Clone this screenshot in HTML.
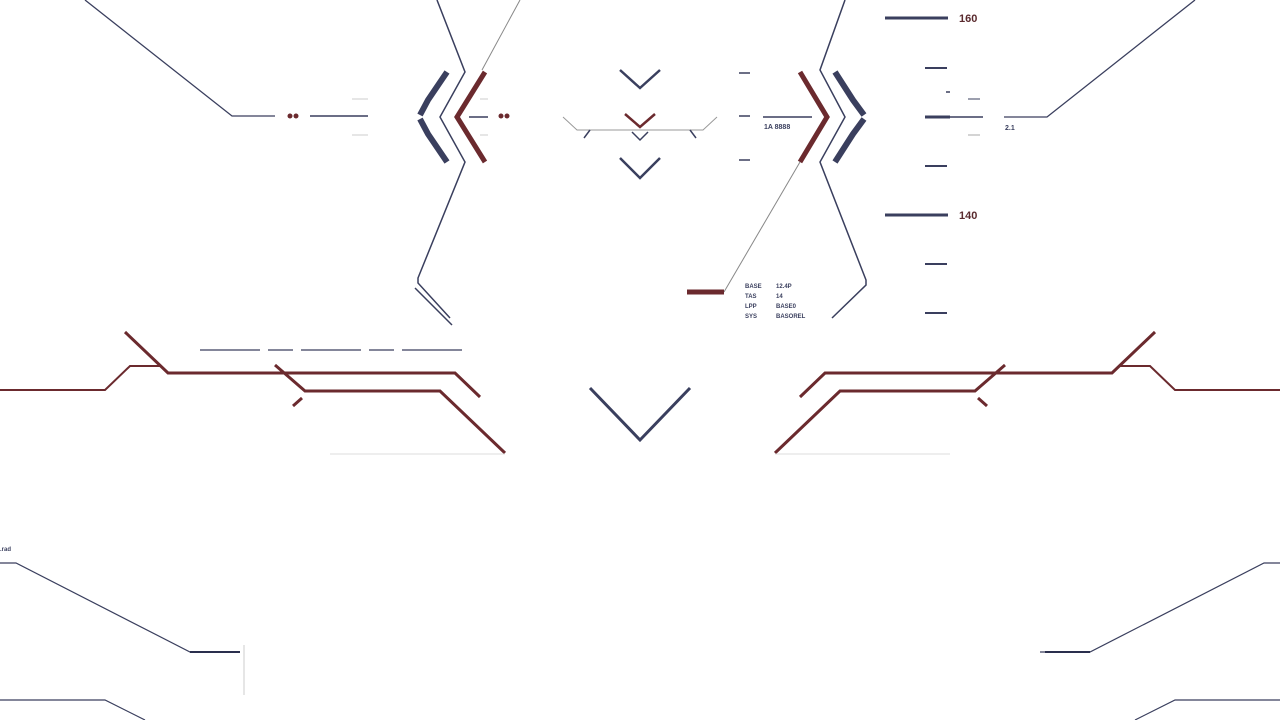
<!DOCTYPE html>
<html><head><meta charset="utf-8"><style>
html,body{margin:0;padding:0;background:#fff;width:1280px;height:720px;overflow:hidden}
svg{display:block}
text{font-family:"Liberation Sans",sans-serif;font-weight:bold}
</style></head><body>
<svg width="1280" height="720" viewBox="0 0 1280 720" xmlns="http://www.w3.org/2000/svg">
<g fill="none" stroke-linejoin="miter">
<!-- top-left -->
<polyline points="85,0 232,116 275,116" stroke="#3a3f5e" stroke-width="1.3"/>
<line x1="310" y1="116" x2="368" y2="116" stroke="#3a3f5e" stroke-width="1.5"/>
<line x1="352" y1="99" x2="368" y2="99" stroke="#ccc" stroke-width="1"/>
<line x1="352" y1="135" x2="368" y2="135" stroke="#ccc" stroke-width="1"/>
<!-- left thin navy -->
<polyline points="437,0 465,72 440,117 465,162 418,278 418,283 450,318" stroke="#3a3f5e" stroke-width="1.5"/>
<polyline points="415,288 452,325" stroke="#3a3f5e" stroke-width="1.5"/>
<line x1="520" y1="0" x2="482" y2="70" stroke="#888" stroke-width="1"/>
<!-- left thick navy chevron -->
<polyline points="447,72 428,100 420,115" stroke="#3a3f5e" stroke-width="6"/>
<polyline points="420,119 428,134 447,162" stroke="#3a3f5e" stroke-width="6"/>
<!-- left maroon chevron -->
<polyline points="485,72 457,117 485,162" stroke="#6b2a2e" stroke-width="5"/>
<line x1="469" y1="117" x2="488" y2="117" stroke="#3a3f5e" stroke-width="1.5"/>
<line x1="480" y1="99" x2="488" y2="99" stroke="#ccc"/>
<line x1="480" y1="135" x2="488" y2="135" stroke="#ccc"/>
<!-- center chevrons -->
<polyline points="620,70 640,88 660,70" stroke="#3a3f5e" stroke-width="2.5"/>
<polyline points="625,114 640,127 655,114" stroke="#6b2a2e" stroke-width="2.5"/>
<polyline points="632,132 640,140 648,132" stroke="#3a3f5e" stroke-width="1.5"/>
<polyline points="620,158 640,178 660,158" stroke="#3a3f5e" stroke-width="2.5"/>
<polyline points="563,117 577,130 703,130 717,117" stroke="#999" stroke-width="1"/>
<line x1="590" y1="130" x2="584" y2="138" stroke="#3a3f5e" stroke-width="1.5"/>
<line x1="690" y1="130" x2="696" y2="138" stroke="#3a3f5e" stroke-width="1.5"/>
<!-- right side ticks -->
<line x1="739" y1="73" x2="750" y2="73" stroke="#3a3f5e" stroke-width="1.5"/>
<line x1="739" y1="116" x2="750" y2="116" stroke="#3a3f5e" stroke-width="1.5"/>
<line x1="739" y1="160" x2="750" y2="160" stroke="#3a3f5e" stroke-width="1.5"/>
<line x1="763" y1="117" x2="812" y2="117" stroke="#3a3f5e" stroke-width="1.5"/>
<!-- right maroon chevron -->
<polyline points="800,72 827,117 800,162" stroke="#6b2a2e" stroke-width="5"/>
<polyline points="845,0 820,70 845,117 820,162 866,280 866,285 832,318" stroke="#3a3f5e" stroke-width="1.5"/>
<polyline points="835,72 853,100 864,115" stroke="#3a3f5e" stroke-width="6"/>
<polyline points="864,119 853,134 835,162" stroke="#3a3f5e" stroke-width="6"/>
<line x1="800" y1="162" x2="724" y2="292" stroke="#888" stroke-width="1"/>
<line x1="687" y1="292" x2="724" y2="292" stroke="#6b2a2e" stroke-width="5"/>
<!-- scale -->
<line x1="885" y1="18" x2="948" y2="18" stroke="#3a3f5e" stroke-width="3"/>
<line x1="885" y1="215" x2="948" y2="215" stroke="#3a3f5e" stroke-width="3"/>
<line x1="925" y1="68" x2="947" y2="68" stroke="#3a3f5e" stroke-width="2"/>
<line x1="925" y1="166" x2="947" y2="166" stroke="#3a3f5e" stroke-width="2"/>
<line x1="925" y1="264" x2="947" y2="264" stroke="#3a3f5e" stroke-width="2"/>
<line x1="925" y1="313" x2="947" y2="313" stroke="#3a3f5e" stroke-width="2"/>
<line x1="925" y1="117" x2="950" y2="117" stroke="#3a3f5e" stroke-width="3"/>
<line x1="950" y1="117" x2="983" y2="117" stroke="#3a3f5e" stroke-width="1.5"/>
<line x1="946" y1="92" x2="950" y2="92" stroke="#3a3f5e" stroke-width="1.5"/>
<line x1="968" y1="99" x2="980" y2="99" stroke="#3a3f5e" stroke-width="1"/>
<line x1="968" y1="135" x2="980" y2="135" stroke="#aaa" stroke-width="1"/>
<polyline points="1004,117 1047,117 1195,0" stroke="#3a3f5e" stroke-width="1.3"/>
<!-- lower left maroon -->
<polyline points="0,390 105,390 130,366 160,366" stroke="#6b2a2e" stroke-width="2"/>
<polyline points="125,332 168,373 455,373 480,397" stroke="#6b2a2e" stroke-width="3"/>
<polyline points="275,365 305,391 440,391 505,453" stroke="#6b2a2e" stroke-width="3"/>
<line x1="293" y1="406" x2="302" y2="398" stroke="#6b2a2e" stroke-width="3"/>
<line x1="200" y1="350" x2="470" y2="350" stroke="#3a3f5e" stroke-width="1.2" stroke-dasharray="60,8,25,8"/>
<line x1="330" y1="454" x2="505" y2="454" stroke="#ddd" stroke-width="1"/>
<!-- lower right maroon -->
<polyline points="1280,390 1175,390 1150,366 1120,366" stroke="#6b2a2e" stroke-width="2"/>
<polyline points="1155,332 1112,373 825,373 800,397" stroke="#6b2a2e" stroke-width="3"/>
<polyline points="1005,365 975,391 840,391 775,453" stroke="#6b2a2e" stroke-width="3"/>
<line x1="987" y1="406" x2="978" y2="398" stroke="#6b2a2e" stroke-width="3"/>
<line x1="775" y1="454" x2="950" y2="454" stroke="#ddd" stroke-width="1"/>
<!-- big chevron -->
<polyline points="590,388 640,440 690,388" stroke="#3a3f5e" stroke-width="3"/>
<!-- bottom corners -->
<polyline points="0,563 16,563 190,652 240,652" stroke="#3a3f5e" stroke-width="1.2"/>
<line x1="190" y1="652" x2="240" y2="652" stroke="#2a2f4e" stroke-width="2"/>
<line x1="244" y1="645" x2="244" y2="695" stroke="#ccc" stroke-width="1"/>
<polyline points="0,700 105,700 145,720" stroke="#3a3f5e" stroke-width="1.2"/>
<polyline points="1280,563 1264,563 1090,652 1040,652" stroke="#3a3f5e" stroke-width="1.2"/>
<line x1="1090" y1="652" x2="1045" y2="652" stroke="#2a2f4e" stroke-width="2"/>
<polyline points="1280,700 1175,700 1135,720" stroke="#3a3f5e" stroke-width="1.2"/>
</g>
<g fill="#3a3f5e">
<circle cx="290" cy="116" r="2.5" fill="#6b2a2e"/><circle cx="296" cy="116" r="2.5" fill="#6b2a2e"/>
<circle cx="501" cy="116" r="2.5" fill="#6b2a2e"/><circle cx="507" cy="116" r="2.5" fill="#6b2a2e"/>
<text x="764" y="129" font-size="7">1A  8888</text>
<text x="959" y="22" font-size="11" fill="#5a2a2e">160</text>
<text x="959" y="219" font-size="11" fill="#5a2a2e">140</text>
<text x="1005" y="130" font-size="7">2.1</text>
<text x="745" y="288" font-size="6">BASE</text><text x="776" y="288" font-size="6">12.4P</text>
<text x="745" y="298" font-size="6">TAS</text><text x="776" y="298" font-size="6">14</text>
<text x="745" y="308" font-size="6">LPP</text><text x="776" y="308" font-size="6">BASE0</text>
<text x="745" y="318" font-size="6">SYS</text><text x="776" y="318" font-size="6">BASOREL</text>
<text x="0" y="551" font-size="6">.rad</text>
</g>
</svg>
</body></html>
